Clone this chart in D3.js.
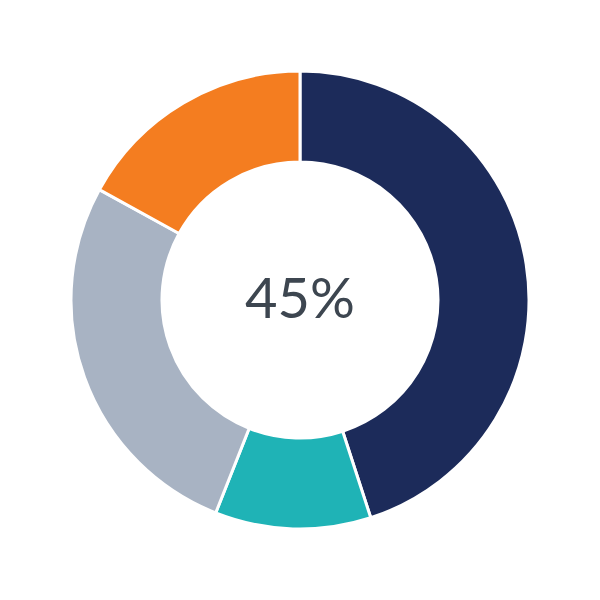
<!DOCTYPE html>
<html><head><meta charset="utf-8">
<script src="https://cdn.jsdelivr.net/npm/d3@7"></script>
<style>html,body{margin:0;padding:0;background:#fff;}</style>
</head><body>
<svg id="chart" width="600" height="600"></svg>
<script>
const categories = ["A", "B", "C", "D"];
const values = [45, 11, 27, 17];
const colors = ["#1c2b5a", "#1fb3b6", "#a8b3c3", "#f47d20"];
const centerLabel = "45%";

const svg = d3.select("#chart");
const g = svg.append("g").attr("transform", "translate(300,300)");
const pie = d3.pie().sort(null).value(d => d.v);
const arc = d3.arc().innerRadius(138).outerRadius(229);
const data = categories.map((c, i) => ({c, v: values[i], col: colors[i]}));
g.selectAll("path").data(pie(data)).join("path")
  .attr("d", arc)
  .attr("fill", d => d.data.col)
  .attr("stroke", "#fff")
  .attr("stroke-width", 3);
g.append("text").text(centerLabel)
  .attr("text-anchor", "middle")
  .attr("y", 18)
  .attr("font-family", "Lato, sans-serif")
  .attr("font-size", 56)
  .attr("fill", "#3d4650");
</script>
</body></html>
